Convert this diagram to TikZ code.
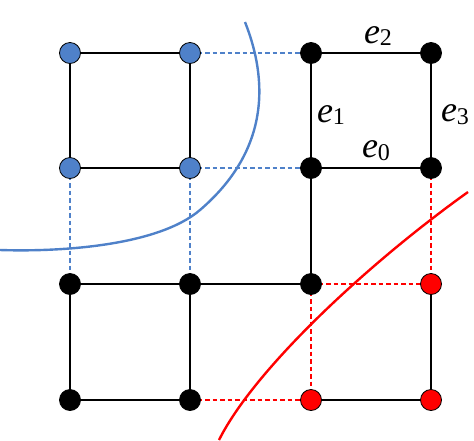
\documentclass[tikz,border=0pt]{standalone}
\usepackage{fontspec}
\setmainfont{Liberation Serif}
\definecolor{nblue}{RGB}{79,129,201}
\definecolor{nred}{RGB}{255,0,0}
\newcommand{\lab}[2]{{\fontsize{36}{36}\selectfont\itshape #1}\raisebox{-0.28em}{\fontsize{24}{24}\selectfont #2}}
\begin{document}
\begin{tikzpicture}[x=1pt,y=-1pt,
  vert/.style={circle,draw=black,line width=0.8pt,minimum size=21pt,inner sep=0pt},
  bv/.style={vert,fill=nblue},
  kv/.style={vert,fill=black},
  rv/.style={vert,fill=nred},
  solid edge/.style={line width=1.6pt,black},
  bdash/.style={line width=2.2pt,nblue,dash pattern=on 4.5pt off 3pt},
  rdash/.style={line width=2.2pt,nred,dash pattern=on 4.5pt off 3pt},
  lbl/.style={inner sep=0pt}]
\useasboundingbox (0,0) rectangle (474,440);
% curves (behind)
\coordinate (bs) at (245,22);
\coordinate (bm) at (200,210);
\coordinate (be) at (0,250);
\draw[nblue,line width=2.4pt] (bs) .. controls (268,80) and (270,150) .. (bm) .. controls (158,246) and (60,252) .. (be);
\coordinate (rs) at (219,440);
\coordinate (re) at (468,192);
\draw[nred,line width=2.4pt] (rs) .. controls (255,368) and (370,262) .. (re);
% vertex positions
\coordinate (pa1) at (70,53);  \coordinate (pa2) at (190,53);  \coordinate (pa3) at (311,53);  \coordinate (pa4) at (431,53);
\coordinate (pb1) at (70,168); \coordinate (pb2) at (190,168); \coordinate (pb3) at (311,168); \coordinate (pb4) at (431,168);
\coordinate (pc1) at (70,284); \coordinate (pc2) at (190,284); \coordinate (pc3) at (311,284); \coordinate (pc4) at (431,284);
\coordinate (pd1) at (70,400); \coordinate (pd2) at (190,400); \coordinate (pd3) at (311,400); \coordinate (pd4) at (431,400);
% solid edges
\draw[solid edge] (pa1) -- (pa2);
\draw[solid edge] (pa1) -- (pb1);
\draw[solid edge] (pa2) -- (pb2);
\draw[solid edge] (pb1) -- (pb2);
\draw[solid edge] (pa3) -- (pa4);
\draw[solid edge] (pa3) -- (pb3);
\draw[solid edge] (pa4) -- (pb4);
\draw[solid edge] (pb3) -- (pb4);
\draw[solid edge] (pb3) -- (pc3);
\draw[solid edge] (pc1) -- (pc2);
\draw[solid edge] (pc2) -- (pc3);
\draw[solid edge] (pc1) -- (pd1);
\draw[solid edge] (pc2) -- (pd2);
\draw[solid edge] (pd1) -- (pd2);
\draw[solid edge] (pc4) -- (pd4);
\draw[solid edge] (pd3) -- (pd4);
% dashed edges
\draw[bdash] (pa2) -- (pa3);
\draw[bdash] (pb2) -- (pb3);
\draw[bdash] (pb1) -- (pc1);
\draw[bdash] (pb2) -- (pc2);
\draw[rdash] (pb4) -- (pc4);
\draw[rdash] (pc3) -- (pc4);
\draw[rdash] (pc3) -- (pd3);
\draw[rdash] (pd2) -- (pd3);
% nodes
\node[bv] (a1) at (pa1) {};
\node[bv] (a2) at (pa2) {};
\node[kv] (a3) at (pa3) {};
\node[kv] (a4) at (pa4) {};
\node[bv] (b1) at (pb1) {};
\node[bv] (b2) at (pb2) {};
\node[kv] (b3) at (pb3) {};
\node[kv] (b4) at (pb4) {};
\node[kv] (c1) at (pc1) {};
\node[kv] (c2) at (pc2) {};
\node[kv] (c3) at (pc3) {};
\node[rv] (c4) at (pc4) {};
\node[kv] (d1) at (pd1) {};
\node[kv] (d2) at (pd2) {};
\node[rv] (d3) at (pd3) {};
\node[rv] (d4) at (pd4) {};
% labels
\node[lbl] (l2) at (378,36) {\lab{e}{2}};
\node[lbl] (l1) at (331,115) {\lab{e}{1}};
\node[lbl] (l3) at (455,115) {\lab{e}{3}};
\node[lbl] (l0) at (376,151) {\lab{e}{0}};
\end{tikzpicture}
\end{document}
